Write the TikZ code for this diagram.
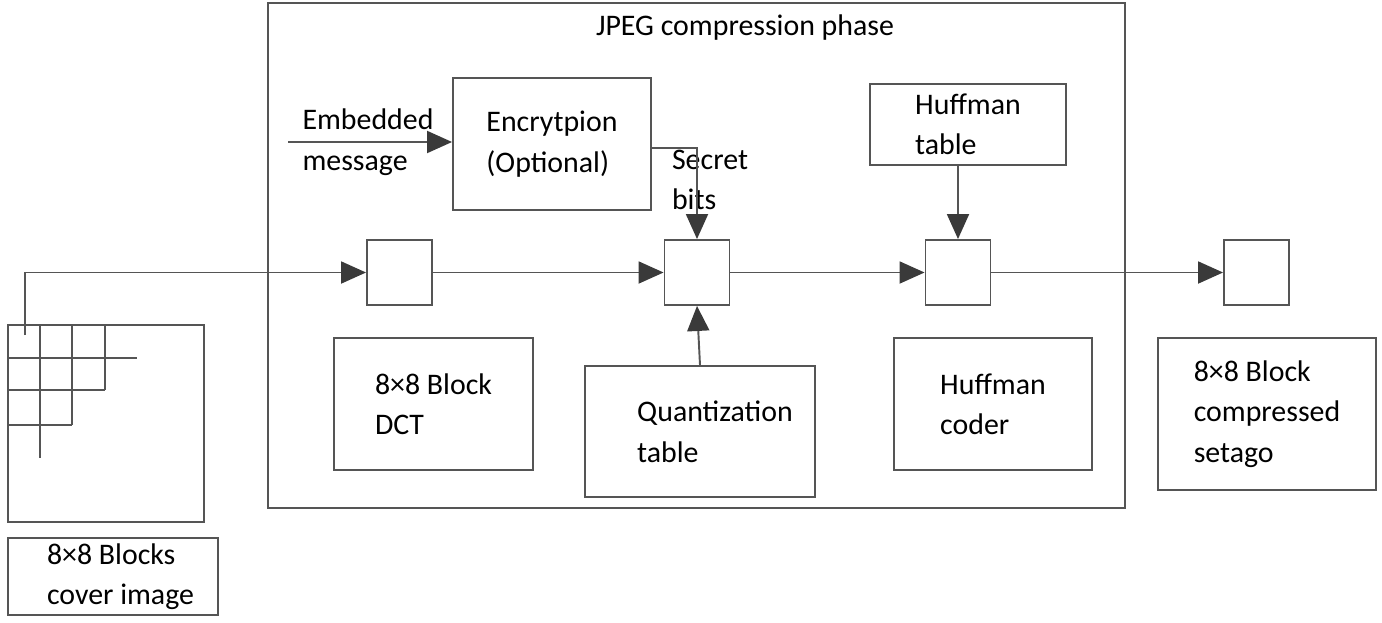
\documentclass[tikz,border=0pt]{standalone}
\usepackage{fontspec}
\setmainfont{Carlito}
\usetikzlibrary{arrows.meta}
\definecolor{ln}{HTML}{555555}
\definecolor{tip}{HTML}{3A3A3A}
\begin{document}
\begin{tikzpicture}[x=0.02cm,y=-0.02cm,
  box/.style={draw=ln, line width=1.1pt, inner sep=0pt, align=left,
    font=\fontsize{17}{23}\selectfont},
  sq/.style={draw=ln, line width=1.1pt, minimum width=1.3cm, minimum height=1.3cm, inner sep=0pt},
  txt/.style={inner sep=0pt, align=left, font=\fontsize{17}{23}\selectfont},
  arr/.style={draw=ln, line width=1.1pt, -{Triangle[length=0.5cm,width=0.44cm,color=tip]}}]
\useasboundingbox (0,0) rectangle (1382,622);
% outer phase box
\node[box, minimum width=17.14cm, minimum height=10.1cm] (phase) at (696.5,255.5) {};
\node[txt] (title) at (745,28) {JPEG compression phase};
% boxes
\node[box, minimum width=3.96cm, minimum height=2.64cm] (enc) at (552,144) {Encrytpion\\(Optional)};
\node[box, minimum width=3.92cm, minimum height=1.62cm] (htab) at (968,124.5) {Huffman\\table};
\node[box, minimum width=3.98cm, minimum height=2.64cm] (dct) at (433.5,404) {8×8 Block\\DCT};
\node[box, minimum width=4.6cm, minimum height=2.62cm, text depth=-0.3cm] (qtab) at (700,431.5) {\hspace*{0.6cm}Quantization\\\hspace*{0.6cm}table};
\node[box, minimum width=3.96cm, minimum height=2.64cm] (hcod) at (993,404) {Huffman\\coder};
\node[box, minimum width=4.36cm, minimum height=3.04cm] (comp) at (1267,414) {8×8 Block\\compressed\\setago};
\node[box, minimum width=3.92cm, minimum height=3.94cm] (cover) at (106,423.5) {};
\node[box, minimum width=4.2cm, minimum height=1.54cm] (clab) at (113,576.5) {\hspace*{0.3cm}8×8 Blocks\\\hspace*{0.3cm}cover image};
% small squares
\node[sq] (s1) at (399.5,272.5) {};
\node[sq] (s2) at (697,272.5) {};
\node[sq] (s3) at (958,272.5) {};
\node[sq] (s4) at (1256.5,272.5) {};
% grid in cover image
\begin{scope}[draw=ln, line width=1.1pt]
\draw (8,358) -- (137,358);
\draw (8,390) -- (105,390);
\draw (8,425) -- (72,425);
\draw (40,325) -- (40,458);
\draw (72,325) -- (72,425);
\draw (105,325) -- (105,390);
\end{scope}
% labels
\node[txt] (emb) at (368,142) {Embedded\\message};
\node[txt] (sec) at (710,180) {Secret\\bits};
\coordinate (m0) at (288,142);
\coordinate (c0) at (25,335);
% connectors
\draw[arr] (m0) -- (enc.west |- m0);
\draw[arr] (c0) |- (s1.west);
\draw[arr] (s1) -- (s2);
\draw[arr] (s2) -- (s3);
\draw[arr] (s3) -- (s4);
\draw[arr] (enc.east |- 0,148) -| (s2.north);
\draw[arr] (htab.south -| s3) -- (s3.north);
\draw[arr] (qtab.north) -- (s2.south);
\end{tikzpicture}
\end{document}
